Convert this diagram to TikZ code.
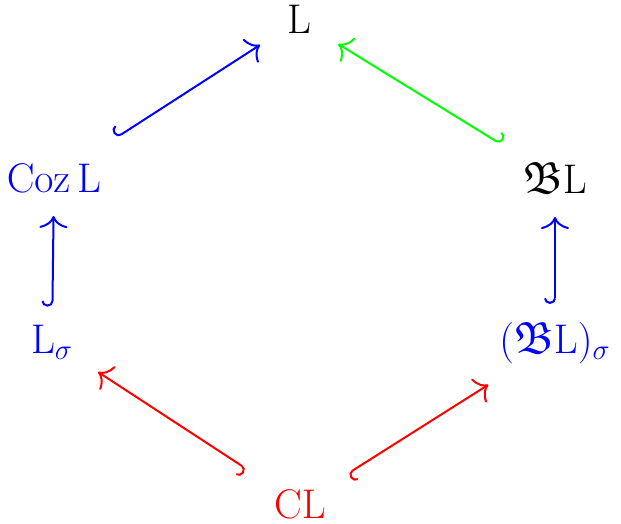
\documentclass[tikz,border=0pt]{standalone}
\usepackage{amssymb}
\usepackage{amsfonts}
\usetikzlibrary{arrows.meta}
\definecolor{cblue}{RGB}{0,0,255}
\definecolor{cgreen}{RGB}{0,255,0}
\definecolor{cred}{RGB}{255,0,0}
\begin{document}
\begin{tikzpicture}[x=0.5pt,y=-0.5pt,
  lbl/.style={anchor=base,inner sep=0pt,outer sep=0pt,font=\fontsize{22.5}{27}\selectfont},
  hookL/.style={line width=1pt,{Hooks[left,length=2.8pt,width=11pt]}-{Computer Modern Rightarrow[length=6pt,width=14pt]}},
  hookR/.style={line width=1pt,{Hooks[right,length=2.8pt,width=11pt]}-{Computer Modern Rightarrow[length=6pt,width=14pt]}}]
\useasboundingbox (0,0) rectangle (621,524);
\node[lbl] (L) at (299,34) {$\mathrm{L}$};
\node[lbl,text=cblue] (coz) at (54,192) {$\mathrm{Coz}\,\mathrm{L}$};
\node[lbl] (BL) at (555,193) {$\mathfrak{B}\mathrm{L}$};
\node[lbl,text=cblue] (Ls) at (52,353) {$\mathrm{L}_\sigma$};
\node[lbl,text=cblue] (BLs) at (555,353) {$(\mathfrak{B}\mathrm{L})_\sigma$};
\node[lbl,text=cred] (CL) at (300,518) {$\mathrm{CL}$};
\draw[hookR,cblue,shorten <=24pt,shorten >=16pt] (coz) -- (L);
\draw[hookL,cgreen,shorten <=17pt,shorten >=16pt] (BL) -- (L);
\draw[hookR,cblue,shorten <=9pt,shorten >=12pt] (Ls) -- (coz);
\draw[hookR,cblue,shorten <=9pt,shorten >=12pt] (BLs) -- (BL);
\draw[hookR,cred,shorten <=19pt,shorten >=15pt] (CL) -- (Ls);
\draw[hookL,cred,shorten <=15pt,shorten >=20pt] (CL) -- (BLs);
\end{tikzpicture}
\end{document}
